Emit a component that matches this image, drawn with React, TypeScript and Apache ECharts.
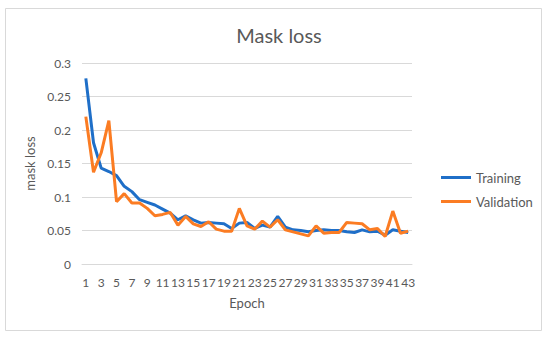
import React, { useEffect, useRef } from "react";
import * as echarts from "echarts";

const epochs: string[] = Array.from({ length: 43 }, (_, i) => String(i + 1));

const training: number[] = [
  0.277, 0.181, 0.143, 0.138, 0.132, 0.116, 0.108, 0.096, 0.092, 0.088,
  0.082, 0.076, 0.066, 0.072, 0.066, 0.061, 0.062, 0.061, 0.060, 0.053,
  0.061, 0.062, 0.053, 0.058, 0.055, 0.071, 0.055, 0.051, 0.050, 0.048,
  0.050, 0.051, 0.050, 0.050, 0.048, 0.047, 0.051, 0.048, 0.049, 0.043,
  0.051, 0.049, 0.047,
];

const validation: number[] = [
  0.220, 0.137, 0.166, 0.214, 0.093, 0.105, 0.091, 0.091, 0.083, 0.072,
  0.074, 0.077, 0.058, 0.071, 0.060, 0.056, 0.063, 0.052, 0.049, 0.049,
  0.083, 0.057, 0.052, 0.064, 0.055, 0.066, 0.051, 0.048, 0.045, 0.042,
  0.057, 0.046, 0.047, 0.047, 0.062, 0.061, 0.060, 0.051, 0.053, 0.041,
  0.079, 0.046, 0.049,
];

const FONT = "Lato, 'Open Sans', sans-serif";
const GRAY = "#595959";

export default function App() {
  const ref = useRef<HTMLDivElement>(null);

  useEffect(() => {
    if (!ref.current) return;
    const chart = echarts.init(ref.current, undefined, { renderer: "svg" });
    chart.setOption({
      animation: false,
      backgroundColor: "#ffffff",
      title: {
        text: "Mask loss",
        left: 274,
        top: 20,
        textAlign: "center",
        textStyle: { fontFamily: FONT, fontSize: 20, fontWeight: "normal", color: GRAY },
      },
      graphic: [
        {
          type: "rect",
          shape: { x: 5.5, y: 8.5, width: 536, height: 322 },
          style: { fill: "none", stroke: "#d9d9d9", lineWidth: 1 },
          silent: true,
        },
      ],
      legend: {
        orient: "vertical",
        left: 436,
        top: 166,
        itemWidth: 30,
        itemHeight: 3,
        itemGap: 11,
        icon: "rect",
        textStyle: { fontFamily: FONT, fontSize: 13, color: GRAY },
        data: ["Training", "Validation"],
      },
      grid: { left: 82, right: 138, top: 63, bottom: 73 },
      xAxis: {
        type: "category",
        data: epochs,
        boundaryGap: true,
        name: "Epoch",
        nameLocation: "middle",
        nameGap: 32,
        nameTextStyle: { fontFamily: FONT, fontSize: 13, color: GRAY },
        axisLine: { lineStyle: { color: "#d9d9d9" } },
        axisTick: { show: false },
        axisLabel: { interval: 1, fontFamily: FONT, fontSize: 12, color: GRAY, margin: 12 },
      },
      yAxis: {
        type: "value",
        min: 0,
        max: 0.3,
        interval: 0.05,
        name: "mask loss",
        nameLocation: "middle",
        nameGap: 45,
        nameTextStyle: { fontFamily: FONT, fontSize: 13, color: GRAY },
        axisLine: { show: false },
        axisTick: { show: false },
        splitLine: { lineStyle: { color: "#d9d9d9" } },
        axisLabel: {
          fontFamily: FONT,
          fontSize: 12,
          color: GRAY,
          margin: 11,
          formatter: (v: number) => String(Math.round(v * 100) / 100),
        },
      },
      series: [
        {
          name: "Training",
          type: "line",
          data: training,
          symbol: "none",
          lineStyle: { width: 3, color: "#1f6fc8" },
          itemStyle: { color: "#1f6fc8" },
        },
        {
          name: "Validation",
          type: "line",
          data: validation,
          symbol: "none",
          lineStyle: { width: 3, color: "#fb7c23" },
          itemStyle: { color: "#fb7c23" },
        },
      ],
    });
    return () => chart.dispose();
  }, []);

  return <div ref={ref} style={{ width: 550, height: 337, position: "absolute", left: 0, top: 0 }} />;
}
